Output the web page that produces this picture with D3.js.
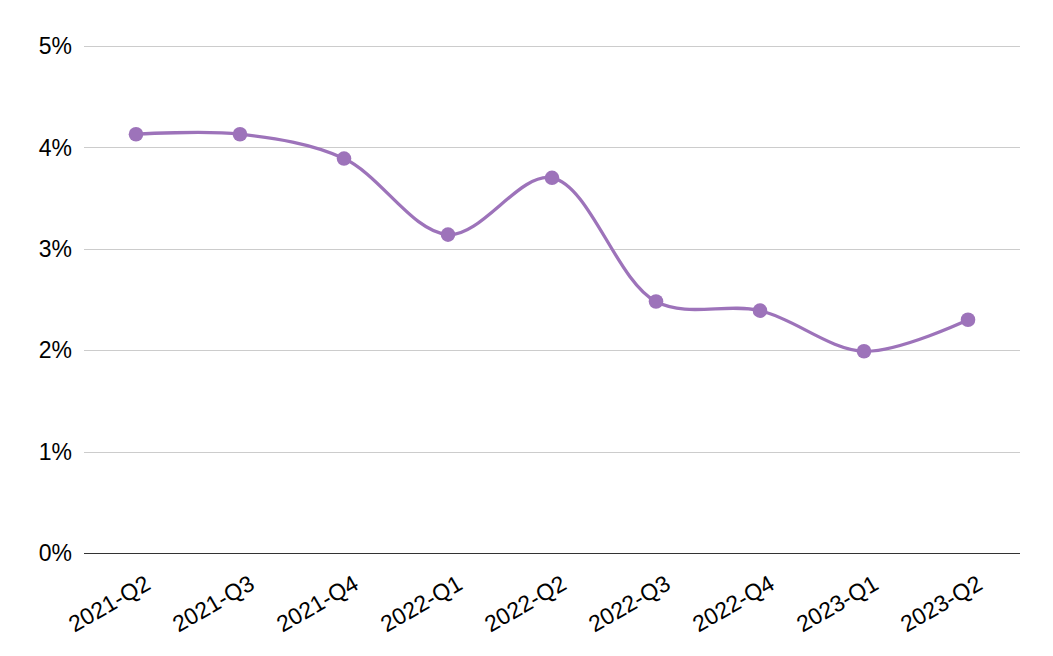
<!DOCTYPE html>
<html><head><meta charset="utf-8">
<script src="https://cdn.jsdelivr.net/npm/d3@7"></script>
<style>body{margin:0;background:#fff}text{font-family:"Liberation Sans",Arial,sans-serif}</style>
</head><body><svg id="c" width="1053" height="656"></svg>
<script>
const categories = ["2021-Q2","2021-Q3","2021-Q4","2022-Q1","2022-Q2","2022-Q3","2022-Q4","2023-Q1","2023-Q2"];
const values = [4.13, 4.13, 3.89, 3.14, 3.70, 2.48, 2.39, 1.99, 2.30];
const yTicks = [0, 1, 2, 3, 4, 5];

const svg = d3.select("#c");
const mLeft = 84, mRight = 1020, mTop = 46, mBottom = 553;
const x = d3.scaleBand().domain(categories).range([mLeft, mRight]);
const y = d3.scaleLinear().domain([0, 5]).range([mBottom, mTop]);
const color = "#9d73ba";

svg.append("g").selectAll("line").data(yTicks.filter(d => d > 0)).join("line")
  .attr("x1", mLeft).attr("x2", mRight)
  .attr("y1", d => Math.round(y(d)) + 0.5).attr("y2", d => Math.round(y(d)) + 0.5)
  .attr("stroke", "#cccccc").attr("stroke-width", 1);

svg.append("line").attr("x1", mLeft).attr("x2", mRight)
  .attr("y1", Math.round(y(0)) + 0.5).attr("y2", Math.round(y(0)) + 0.5)
  .attr("stroke", "#333333").attr("stroke-width", 1);

svg.append("g").selectAll("text").data(yTicks).join("text")
  .attr("x", 72).attr("y", d => y(d)).attr("dy", "0.36em")
  .attr("text-anchor", "end").attr("font-size", 23).attr("fill", "#000")
  .text(d => d + "%");

svg.append("g").selectAll("text").data(categories).join("text")
  .attr("text-anchor", "end").attr("font-size", 23).attr("fill", "#000")
  .attr("transform", d => `translate(${x(d) + x.bandwidth()/2 + 16},${y(0) + 35}) rotate(-30)`)
  .text(d => d);

const cx = d => x(d) + x.bandwidth()/2;
const line = d3.line().x((d, i) => cx(categories[i])).y(d => y(d)).curve(d3.curveCatmullRom.alpha(0.5));
svg.append("path").datum(values).attr("d", line)
  .attr("fill", "none").attr("stroke", color).attr("stroke-width", 3.3);

svg.append("g").selectAll("circle").data(values).join("circle")
  .attr("cx", (d, i) => cx(categories[i])).attr("cy", d => y(d)).attr("r", 7.3)
  .attr("fill", color);
</script></body></html>
